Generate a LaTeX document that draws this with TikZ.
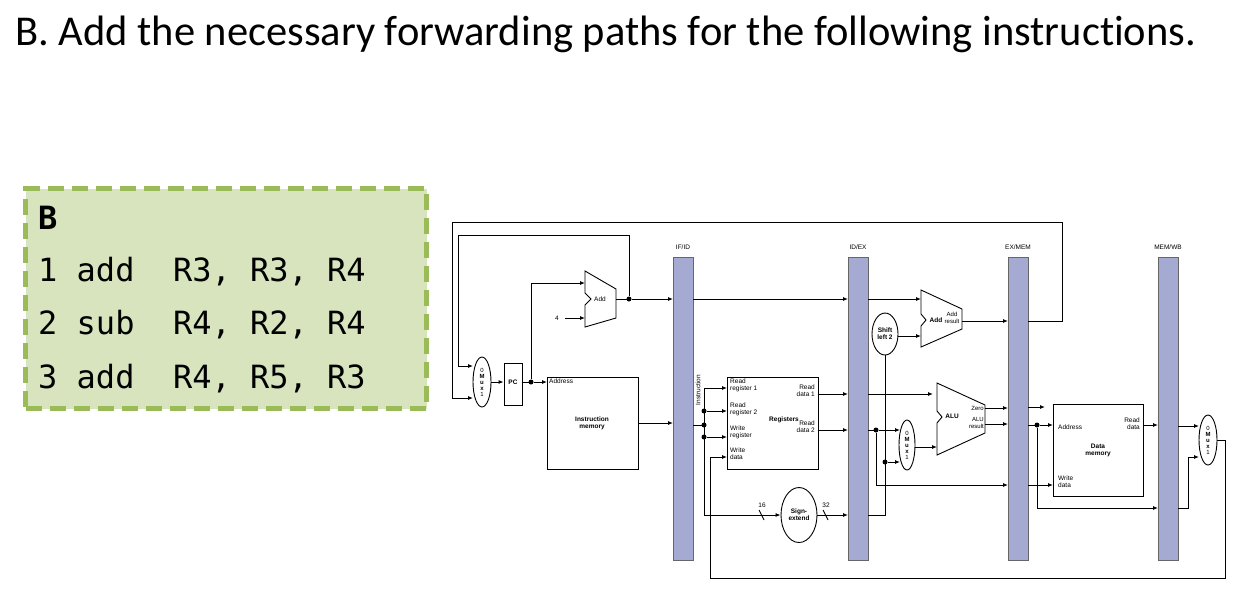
\documentclass[tikz,border=0pt]{standalone}
\usepackage{fontspec}
\setmainfont{Carlito}[Ligatures=NoCommon]
\newfontfamily\lab{Liberation Sans}
\newfontfamily\mono{DejaVu Sans Mono}
\usetikzlibrary{arrows.meta,shapes.geometric}
\definecolor{boxfill}{RGB}{215,228,189}
\definecolor{boxline}{RGB}{155,187,89}
\definecolor{barfill}{RGB}{165,170,210}
\begin{document}
\begin{tikzpicture}[x=1pt,y=-1pt,
  w/.style={line width=0.9pt},
  a/.style={w,-{Latex[length=5pt,width=4pt]}},
  dot/.style={circle,fill,inner sep=0pt,minimum size=5pt},
  bar/.style={draw=black!60,fill=barfill,minimum width=20pt,minimum height=303pt,inner sep=0pt},
  t/.style={font=\lab\fontsize{6.5}{7}\selectfont,inner sep=0pt,align=left},
  tb/.style={t,font=\lab\bfseries\fontsize{6.5}{7}\selectfont,align=center},
  mt/.style={t,align=center,font=\lab\fontsize{6}{6}\selectfont},
  mux/.style={draw,w,ellipse,minimum width=18pt,minimum height=50pt,inner sep=0pt},
  box/.style={draw,w,inner sep=0pt}]
\useasboundingbox (0,0) rectangle (1257,590);
% title
\node[anchor=base west,inner sep=0pt,font=\fontsize{42.5}{46}\selectfont] (title) at (15,45) {B. Add the necessary forwarding paths for the following instructions.};
% instruction box
\node[draw=boxline,fill=boxfill,line width=5pt,dash pattern=on 16pt off 8pt,minimum width=401pt,minimum height=220pt,anchor=north west,inner sep=0pt] (ibox) at (23,186) {};
\node[anchor=base west,inner sep=0pt,font=\mono\bfseries\fontsize{32}{34}\selectfont] (ib) at (38,229) {B};
\node[anchor=base west,inner sep=0pt,font=\mono\fontsize{32}{34}\selectfont] (i1) at (38,281) {1 add\ \ R3, R3, R4};
\node[anchor=base west,inner sep=0pt,font=\mono\fontsize{32}{34}\selectfont] (i2) at (38,334) {2 sub\ \ R4, R2, R4};
\node[anchor=base west,inner sep=0pt,font=\mono\fontsize{32}{34}\selectfont] (i3) at (38,388) {3 add\ \ R4, R5, R3};
% pipeline bars
\node[bar] (ifid) at (683,408.5) {};
\node[bar] (idex) at (858,408.5) {};
\node[bar] (exmem) at (1018,408.5) {};
\node[bar] (memwb) at (1168,408.5) {};
\node[t] at (683,247) {IF/ID};
\node[t] at (858,247) {ID/EX};
\node[t] at (1018,247) {EX/MEM};
\node[t] at (1168,247) {MEM/WB};
% IF stage
\node[mux] (mux1) at (482,382) {};
\node[mt] at (482,382) {0\\\bfseries M\\\bfseries u\\\bfseries x\\1};
\node[box,minimum width=18pt,minimum height=42pt] (pc) at (513,384) {};
\node[tb] at (513,382) {PC};
\draw[w] (585,271) -- (616,289) -- (616,318) -- (585,327) -- (585,305) -- (591,299) -- (585,293) -- cycle;
\node[t] (addif) at (600,299) {Add};
\node[box,minimum width=91pt,minimum height=92pt,anchor=north west] (imem) at (547,377) {};
\node[t,anchor=north west] at (549,379) {Address};
\node[tb] at (592,423) {Instruction\\memory};
\node[t] at (557,318) {4};
\draw[a] (565,318) -- (585,318);
\draw[a] (mux1.east |- 0,382) -- (pc.west |- 0,382);
\draw[w] (pc.east |- 0,382) -- (531,382);
\node[dot] (j1) at (531,382) {};
\draw[a] (j1) -- (547,382);
\draw[a] (j1) |- (585,283);
\draw[w] (616,299) -- (629,299);
\node[dot] (j2) at (629,299) {};
\draw[a] (j2) -- (673,299);
\draw[a] (j2) |- (458,235) |- (473,366);
\draw[a] (1028,321) -| (1062,222) -| (452,398) -- (473,398);
\draw[a] (638,423) -- (673,423);
% ID stage
\node[t,rotate=90] at (698,390) {Instruction};
\node[box,minimum width=91pt,minimum height=92pt,anchor=north west] (regs) at (727,377) {};
\node[t,anchor=north west] at (730,379) {Read\\register 1};
\node[t,anchor=north west] at (730,403) {Read\\register 2};
\node[t,anchor=north west] at (730,426) {Write\\register};
\node[t,anchor=north west] at (730,448) {Write\\data};
\node[t,anchor=north east,align=right] at (815,385) {Read\\data 1};
\node[tb] at (784,420) {Registers};
\node[t,anchor=north east,align=right] at (815,421) {Read\\data 2};
\draw[w] (693,425) -- (704,425);
\draw[a] (704,515) -- (704,388) -- (727,388);
\node[dot] (d1) at (704,411) {};
\node[dot] (d2) at (704,425) {};
\node[dot] (d3) at (704,437) {};
\draw[a] (d1) -- (727,411);
\draw[a] (d3) -- (727,437);
\node[draw,w,ellipse,minimum width=36pt,minimum height=55pt,inner sep=0pt] (sext) at (799,515) {};
\node[tb] at (799,515) {Sign-\\extend};
\draw[a] (704,515) -- (sext.west);
\draw[a] (sext.east) -- (848,515);
\draw[w] (759,510) -- (764,520); \node[t] at (762,505) {16};
\draw[w] (823,510) -- (828,520); \node[t] at (826,505) {32};
\draw[a] (818,394) -- (848,394);
\draw[a] (818,430) -- (848,430);
\draw[a] (693,299) -- (848,299);
% EX stage
\node[draw,w,ellipse,minimum width=26pt,minimum height=42pt,inner sep=0pt] (shl) at (885,334) {};
\node[tb] at (885,334) {Shift\\left 2};
\draw[w] (921,290) -- (962,309) -- (962,329) -- (921,347) -- (921,326) -- (926,320) -- (921,314) -- cycle;
\node[tb] at (936,320) {Add};
\node[t,align=center] at (952,318) {\fontsize{6}{6.5}\selectfont Add\\\fontsize{6}{6.5}\selectfont result};
\draw[a] (868,299) -- (921,299);
\draw[a] (898,336) -- (921,336);
\draw[a] (962,321) -- (1008,321);
\draw[w] (868,515) -| (885,355);
\node[dot] (d4) at (885,462) {};
\draw[a] (d4) -- (900,462);
\draw[w] (937,383) -- (985,405) -- (985,433) -- (937,455) -- (937,423) -- (942,417) -- (937,411) -- cycle;
\node[tb] at (952,416) {ALU};
\node[t,anchor=east] at (984,408) {\fontsize{6}{6.5}\selectfont Zero};
\node[t,anchor=east,align=right] at (984,423) {\fontsize{6}{6.5}\selectfont ALU\\\fontsize{6}{6.5}\selectfont result};
\draw[a] (868,394) -- (933,394);
\draw[w] (868,430) -- (876,430);
\node[dot] (d5) at (876,430) {};
\draw[a] (d5) -- (900,430);
\draw[a] (d5) |- (1008,485);
\node[mux,minimum width=16pt] (mux2) at (907,445) {};
\node[mt] at (907,445) {0\\\bfseries M\\\bfseries u\\\bfseries x\\1};
\draw[a] (mux2.east |- 0,447) -- (937,447);
\draw[a] (985,408) -- (1008,408);
\draw[a] (985,424) -- (1008,424);
% MEM stage
\node[box,minimum width=90pt,minimum height=92pt,anchor=north west] (dmem) at (1053,404) {};
\node[t,anchor=west] at (1058,427) {Address};
\node[t,anchor=north east,align=right] at (1140,418) {Read\\data};
\node[tb] at (1098,450) {Data\\memory};
\node[t,anchor=north west] at (1058,476) {Write\\data};
\draw[a] (1028,407) -- (1045,407);
\draw[w] (1028,425) -- (1037,425);
\node[dot] (d6) at (1037,425) {};
\draw[a] (d6) -- (1053,425);
\draw[a] (d6) |- (1158,508);
\draw[a] (1028,485) -- (1053,485);
\draw[a] (1143,425) -- (1158,425);
% WB stage
\node[mux] (mux3) at (1208,440) {};
\node[mt] at (1208,440) {0\\\bfseries M\\\bfseries u\\\bfseries x\\1};
\draw[a] (1178,426) -- (1199,426);
\draw[a] (1178,508) -- (1188,508) |- (1199,457);
\draw[a] (mux3.east |- 0,440) -- (1225,440) |- (710,578) |- (727,457);
\end{tikzpicture}
\end{document}
